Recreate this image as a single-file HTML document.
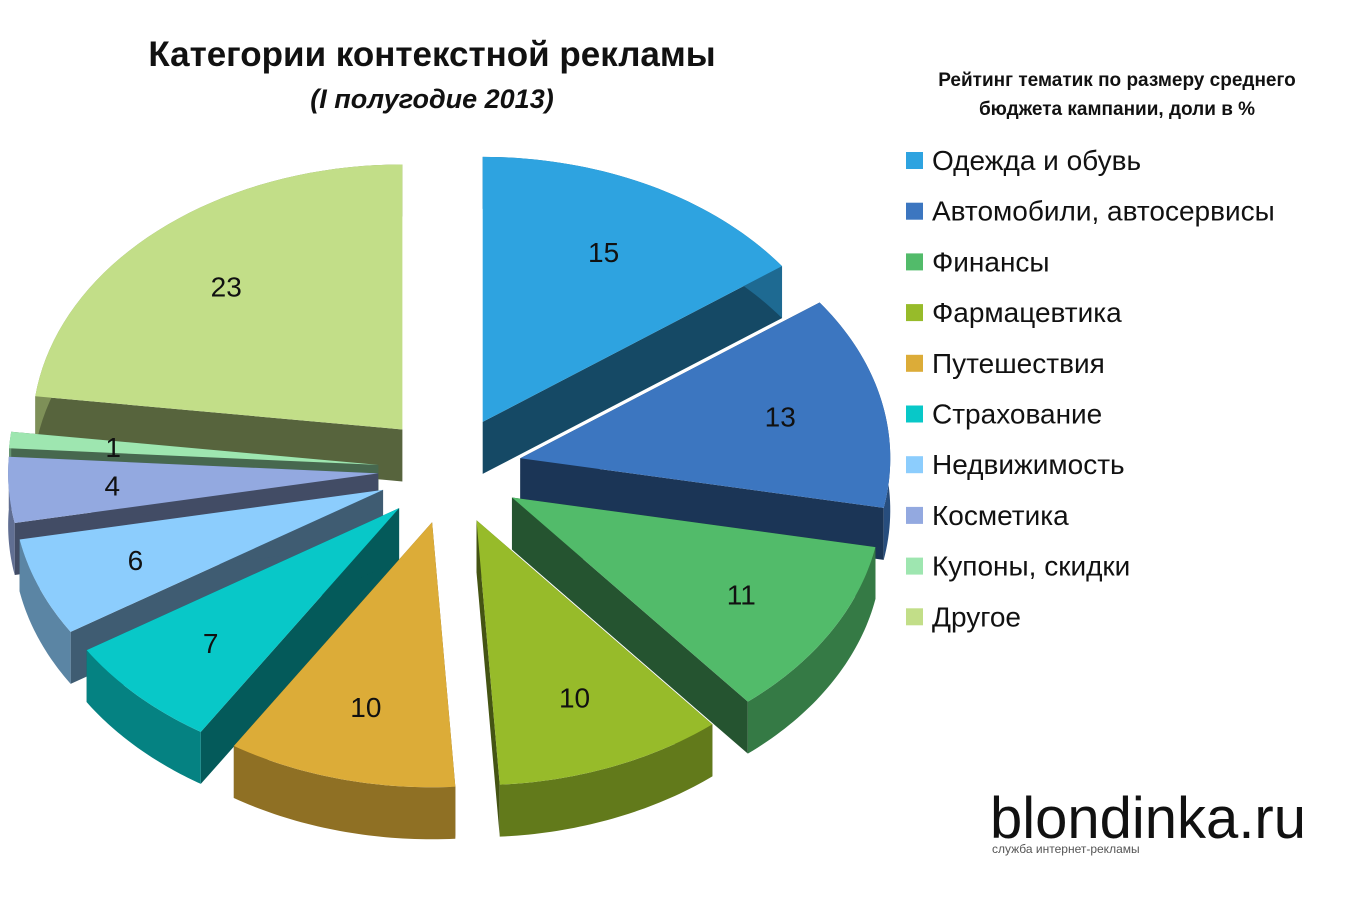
<!DOCTYPE html>
<html><head><meta charset="utf-8">
<style>
body{margin:0;width:1371px;height:923px;background:#fff;overflow:hidden;font-family:"Liberation Sans","DejaVu Sans",sans-serif;}
svg{display:block}
</style></head>
<body>
<svg id="chart" width="1371" height="923" viewBox="0 0 1371 923">
<text x="432" y="66" text-anchor="middle" font-size="35" font-weight="bold" fill="#111">Категории контекстной рекламы</text>
<text x="432" y="108" text-anchor="middle" font-size="27" font-style="italic" font-weight="bold" fill="#111">(I полугодие 2013)</text>
<text x="1117" y="86" text-anchor="middle" font-size="19" font-weight="bold" fill="#111">Рейтинг тематик по размеру среднего</text>
<text x="1117" y="115" text-anchor="middle" font-size="19" font-weight="bold" fill="#111">бюджета кампании, доли в %</text>
<g id="slices"></g>
<g id="legend"></g>
<text x="990" y="838" font-size="58" fill="#111" letter-spacing="0">blondinka.ru</text>
<text x="992" y="853" font-size="12" fill="#555">служба интернет-рекламы</text>
</svg>
<script>
const categories=["Одежда и обувь","Автомобили, автосервисы","Финансы","Фармацевтика","Путешествия","Страхование","Недвижимость","Косметика","Купоны, скидки","Другое"];
const values=[15,13,11,10,10,7,6,4,1,23];
const colors=["#2ea3e0","#3c76c0","#52bb6a","#97bb2a","#dcac38","#08c8c8","#8ccdfd","#93a9e0","#9ee6b0","#c2de88"];
const NS="http://www.w3.org/2000/svg";
const cx=450,cy=470,rx=370,ry=265,depth=52,explode=60;
const total=values.reduce((a,b)=>a+b,0);
function shade(hex,f){const n=parseInt(hex.slice(1),16);const r=Math.round(((n>>16)&255)*f),g=Math.round(((n>>8)&255)*f),b=Math.round((n&255)*f);return `rgb(${r},${g},${b})`;}
function pt(x0,y0,a,k){return [x0+rx*k*Math.sin(a),y0-ry*k*Math.cos(a)];}
const g=document.getElementById('slices');
let cum=0;const items=[];
values.forEach((v,i)=>{const a0=cum/total*2*Math.PI;cum+=v;const a1=cum/total*2*Math.PI;items.push({i,v,a0,a1,mid:(a0+a1)/2});});
items.sort((p,q)=>(-Math.cos(p.mid))-(-Math.cos(q.mid)));
function mk(tag,attrs){const e=document.createElementNS(NS,tag);for(const k in attrs)e.setAttribute(k,attrs[k]);return e;}
items.forEach(s=>{
 const ox=cx+explode*Math.sin(s.mid)*1.2,oy=cy-explode*Math.cos(s.mid)*0.9;
 const N=40,top=[],bot=[];
 for(let j=0;j<=N;j++){const a=s.a0+(s.a1-s.a0)*j/N;const p=pt(ox,oy,a,1);top.push(p);bot.push([p[0],p[1]+depth]);}
 const grp=mk('g',{});
 
 
 const dark=shade(colors[s.i],0.45),mid=shade(colors[s.i],0.65);
 const poly=(ptsArr,fill)=>{const e=mk('polygon',{points:ptsArr.map(p=>p.join(',')).join(' '),fill:fill});grp.appendChild(e);return e;};
 poly([[ox,oy],top[0],bot[0],[ox,oy+depth]],dark);
 poly([[ox,oy],top[N],bot[N],[ox,oy+depth]],dark);
 poly(top.concat(bot.slice().reverse()),mid);
 const tp=poly([[ox,oy]].concat(top),colors[s.i]);
 
 const lp=pt(ox,oy,s.mid,0.72);
 const t=mk('text',{x:lp[0],y:lp[1]+10,'text-anchor':'middle','font-size':28,fill:'#111'});
 
 
 t.textContent=s.v;grp.appendChild(t);
 g.appendChild(grp);
});
const lg=document.getElementById('legend');
categories.forEach((c,i)=>{
 const y=161+i*50.7;
 const r=mk('rect',{x:906,y:y-9,width:17,height:17,fill:colors[i]});
 
 
 lg.appendChild(r);
 const t=mk('text',{x:932,y:y+9,'font-size':28,fill:'#111'});
 
 
 t.textContent=c;lg.appendChild(t);
});
</script>
</body></html>
